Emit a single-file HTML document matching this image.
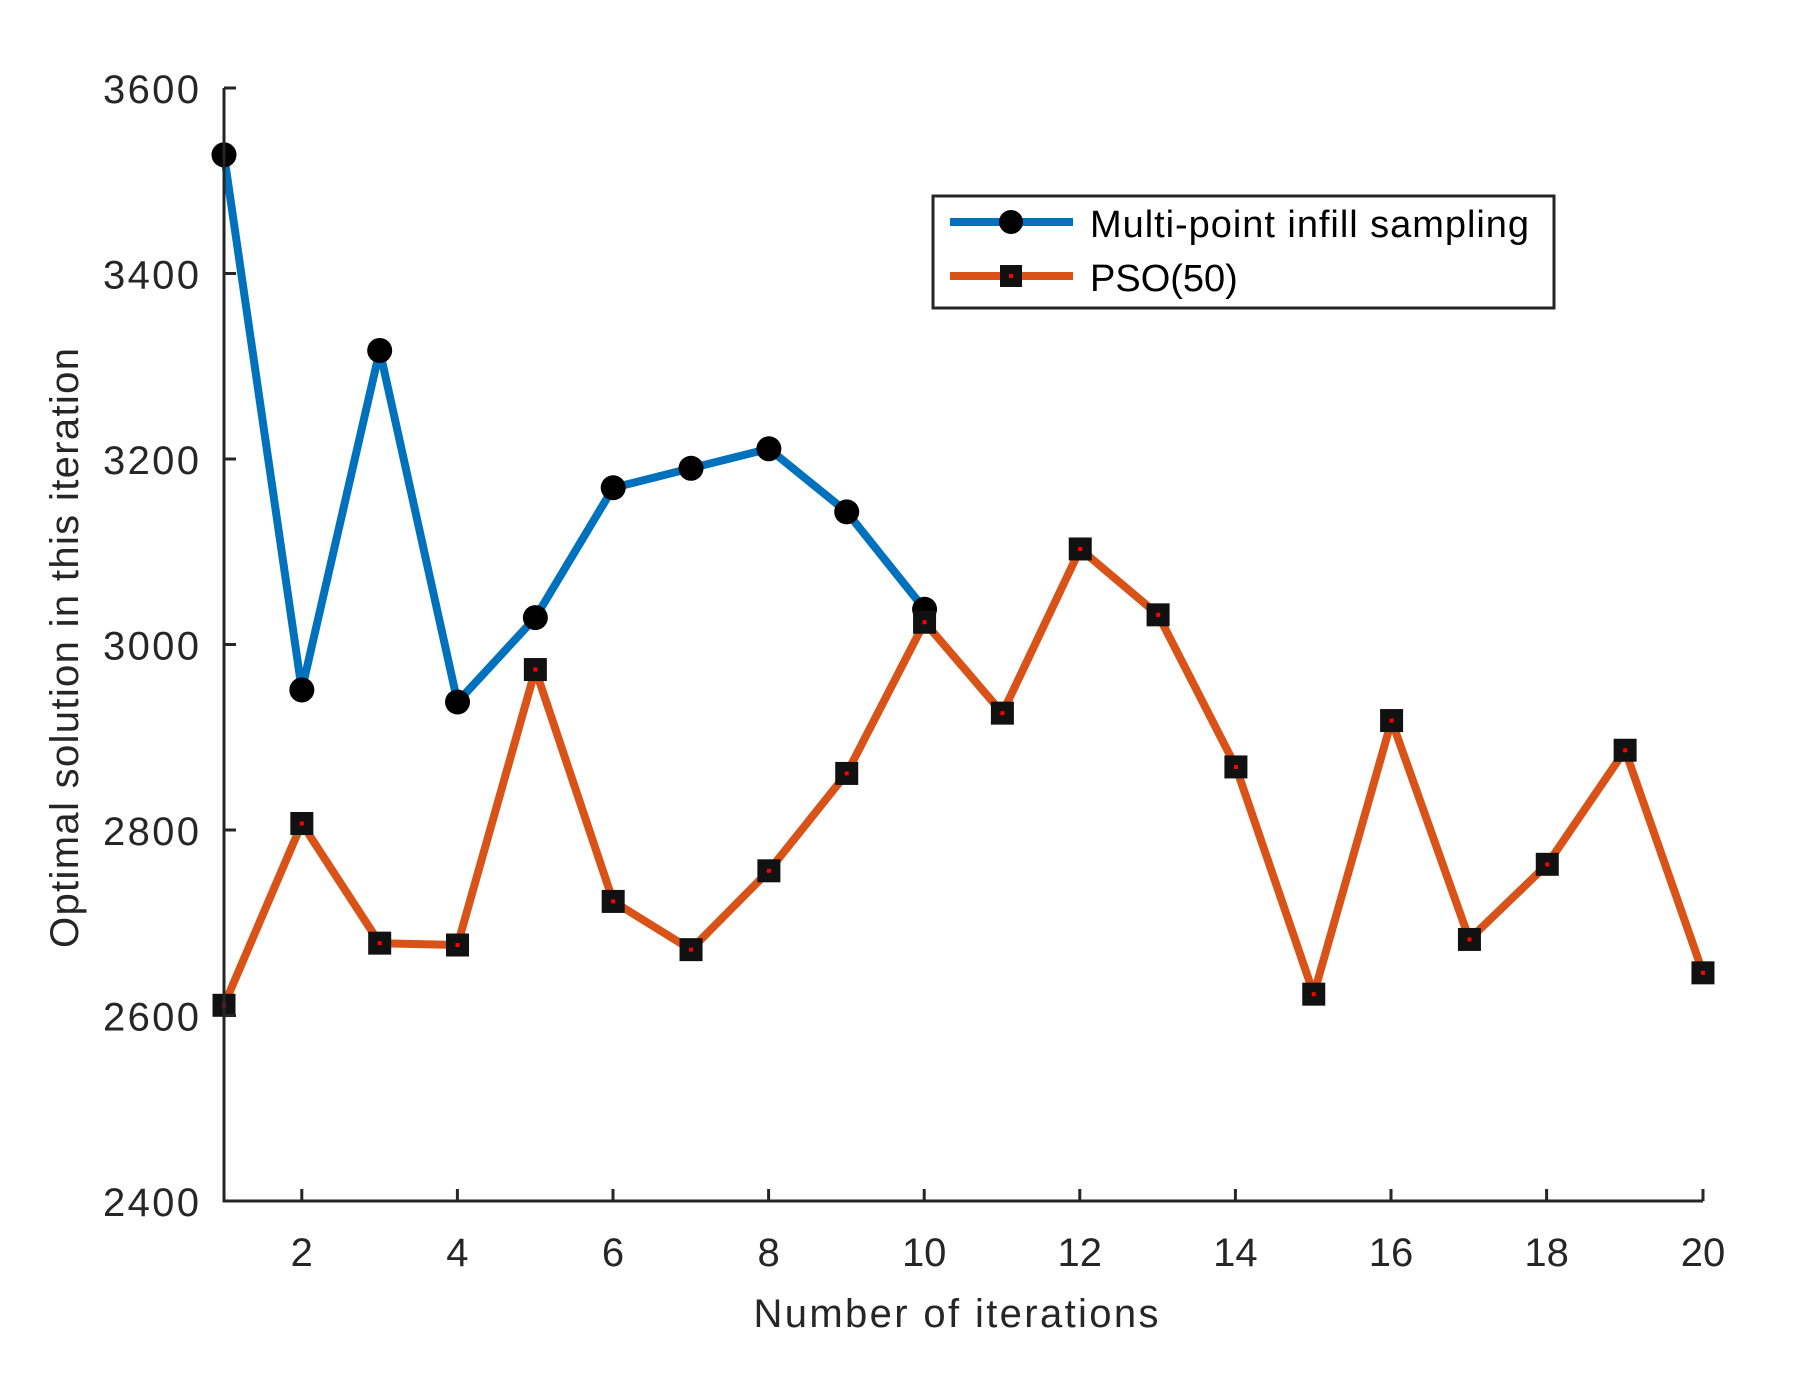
<!DOCTYPE html>
<html><head><meta charset="utf-8"><style>
html,body{margin:0;padding:0;background:#fff;}
svg{display:block;}
text{font-family:"Liberation Sans",Arial,sans-serif;fill:#262626;}
</style></head><body>
<svg id="s" width="1801" height="1383" viewBox="0 0 1801 1383" xmlns="http://www.w3.org/2000/svg">
<rect width="1801" height="1383" fill="#fff"/>
<g id="plot"></g>
<path d="M224,88 V1201 H1703" fill="none" stroke="#262626" stroke-width="3"/>
<g stroke="#262626" stroke-width="3">
<line x1="224" y1="88" x2="236" y2="88"/>
<line x1="224" y1="273.5" x2="236" y2="273.5"/>
<line x1="224" y1="459" x2="236" y2="459"/>
<line x1="224" y1="644.5" x2="236" y2="644.5"/>
<line x1="224" y1="830" x2="236" y2="830"/>
<line x1="224" y1="1015.5" x2="236" y2="1015.5"/>
<line x1="301.8" y1="1201" x2="301.8" y2="1189"/>
<line x1="457.4" y1="1201" x2="457.4" y2="1189"/>
<line x1="613" y1="1201" x2="613" y2="1189"/>
<line x1="768.6" y1="1201" x2="768.6" y2="1189"/>
<line x1="924.2" y1="1201" x2="924.2" y2="1189"/>
<line x1="1079.8" y1="1201" x2="1079.8" y2="1189"/>
<line x1="1235.4" y1="1201" x2="1235.4" y2="1189"/>
<line x1="1391" y1="1201" x2="1391" y2="1189"/>
<line x1="1546.6" y1="1201" x2="1546.6" y2="1189"/>
<line x1="1703" y1="1201" x2="1703" y2="1189"/>
</g>
<g font-size="40" text-anchor="end">
<text x="199" y="103" textLength="96">3600</text>
<text x="199" y="288.5" textLength="96">3400</text>
<text x="199" y="474" textLength="96">3200</text>
<text x="199" y="659.5" textLength="96">3000</text>
<text x="199" y="845" textLength="96">2800</text>
<text x="199" y="1030.5" textLength="96">2600</text>
<text x="199" y="1216" textLength="96">2400</text>
</g>
<g font-size="40" text-anchor="middle">
<text x="301.8" y="1266">2</text>
<text x="457.4" y="1266">4</text>
<text x="613" y="1266">6</text>
<text x="768.6" y="1266">8</text>
<text x="924.2" y="1266">10</text>
<text x="1079.8" y="1266">12</text>
<text x="1235.4" y="1266">14</text>
<text x="1391" y="1266">16</text>
<text x="1546.6" y="1266">18</text>
<text x="1703" y="1266">20</text>
</g>
<text x="956" y="1327" font-size="40" text-anchor="middle" textLength="405">Number of iterations</text>
<text transform="translate(78,648) rotate(-90)" font-size="40" text-anchor="middle" textLength="600">Optimal solution in this iteration</text>
<rect x="933" y="196" width="621" height="112" fill="#fff" stroke="#262626" stroke-width="3"/>
<line x1="950" y1="222" x2="1073" y2="222" stroke="#0072BD" stroke-width="8"/>
<circle cx="1011" cy="222" r="12" fill="#000"/>
<line x1="950" y1="276" x2="1073" y2="276" stroke="#D95319" stroke-width="8"/>
<rect x="1000" y="265" width="22" height="22" fill="#111"/>
<rect x="1009" y="274" width="4" height="4" fill="#f00"/>
<text x="1090" y="237" font-size="38" style="fill:#000" textLength="439">Multi-point infill sampling</text>
<text x="1090" y="291" font-size="38" style="fill:#000">PSO(50)</text>
</svg>
<script>
var blue=[3528,2951,3317,2938,3029,3169,3190,3211,3143,3038];
var orange=[2611,2807,2678,2676,2973,2723,2671,2756,2861,3024,2926,3103,3032,2868,2623,2918,2682,2763,2886,2646];
function X(i){return 224+(i)*77.84;}
function Y(v){return 1201-(v-2400)*1113/1200;}
var g=document.getElementById('plot'),h='';
function pl(a,c){return '<polyline fill="none" stroke="'+c+'" stroke-width="8" stroke-linejoin="round" points="'+a.map(function(v,i){return X(i).toFixed(1)+','+Y(v).toFixed(1)}).join(' ')+'"/>';}
h+=pl(blue,'#0072BD');
blue.forEach(function(v,i){h+='<circle cx="'+X(i)+'" cy="'+Y(v)+'" r="12.5" fill="#000"/>';});
h+=pl(orange,'#D95319');
orange.forEach(function(v,i){var x=X(i),y=Y(v);h+='<rect x="'+(x-11.5)+'" y="'+(y-11.5)+'" width="23" height="23" fill="#111"/><rect x="'+(x-2)+'" y="'+(y-2)+'" width="4" height="4" fill="#f00"/>';});
g.innerHTML=h;
</script>
</body></html>
